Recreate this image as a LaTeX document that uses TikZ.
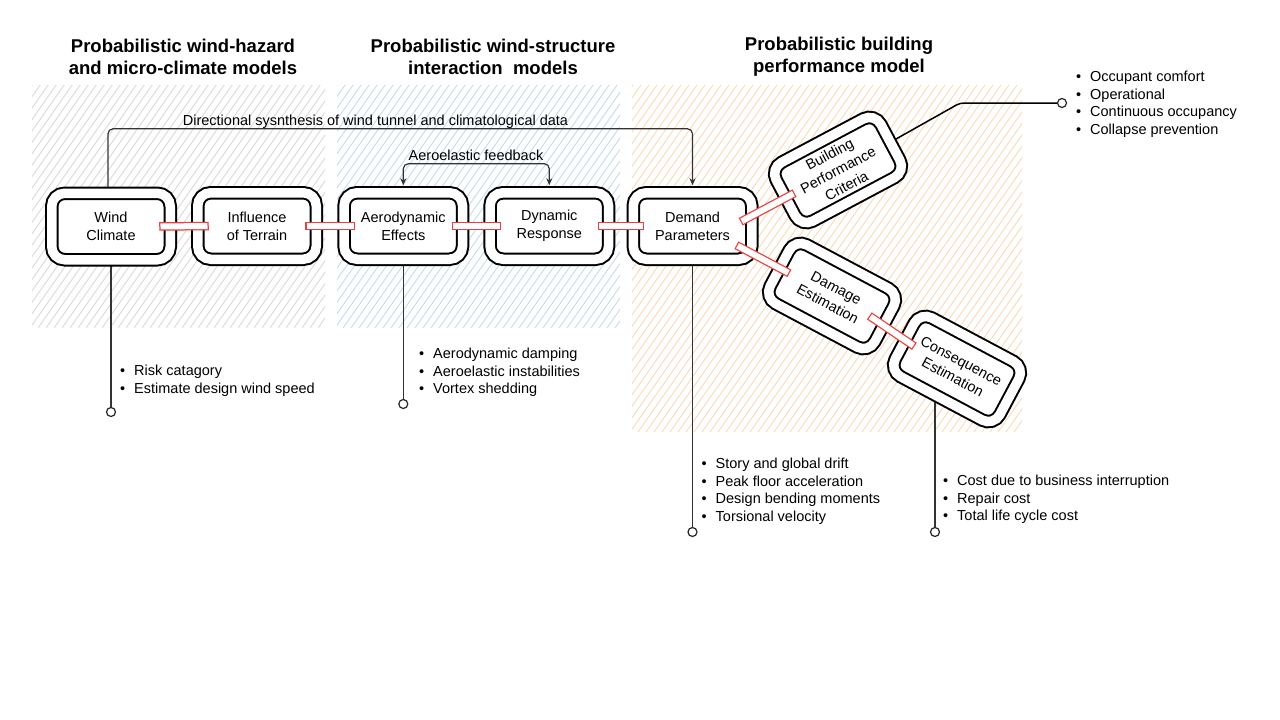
\documentclass[tikz,border=0pt]{standalone}
\usepackage{fontspec}
\setmainfont{Liberation Sans}
\usetikzlibrary{calc,arrows.meta}
\pgfdeclarelayer{bg}
\pgfdeclarelayer{lines}
\pgfsetlayers{bg,lines,main}
\definecolor{hgray}{HTML}{D9D9D9}
\definecolor{hblue}{HTML}{C5D9EF}
\definecolor{horange}{HTML}{FCD8B4}
\definecolor{barred}{HTML}{F03C3C}
\newcommand{\mybul}{\makebox[14pt][l]{•}}
\newcommand{\myhatch}[5]{%
  \begin{scope}
    \clip (#1,#2) rectangle (#3,#4);
    \foreach \k in {0,...,85}
      \draw[#5, line width=0.9pt] ({#1-250+\k*8},#4) -- ++(55:450);
  \end{scope}}
\begin{document}
\begin{tikzpicture}[x=1pt,y=1pt,
  link/.style={draw=black, line width=2pt, double=white, double distance=9.5pt,
    fill=white, rounded corners=13pt, minimum width=118.5pt, minimum height=66.5pt,
    inner sep=0pt, align=center, font=\fontsize{14.5}{18}\selectfont},
  head/.style={align=center, inner sep=0pt, font=\fontsize{18.5}{22}\selectfont\bfseries},
  lbl/.style={inner sep=0pt, font=\fontsize{14.5}{17.5}\selectfont},
  lst/.style={anchor=north west, align=left, inner sep=0pt, font=\fontsize{14.5}{17.5}\selectfont},
  endc/.style={circle, draw=black!85, fill=white, line width=1.2pt, minimum size=9pt, inner sep=0pt},
  leader/.style={draw=black!80, line width=1.2pt},
  arr/.style={draw=black!80, line width=1.2pt, rounded corners=5pt,
    -{Stealth[length=7pt,width=6pt]}, shorten >=6.5pt},
  bline/.style={draw=black, line width=1.5pt, rounded corners=4pt},
  bar/.style={draw=barred, line width=8.5pt,
    postaction={draw=white, line width=6pt, shorten <=1.25pt, shorten >=1.25pt}}
]
\useasboundingbox (0,0) rectangle (1280,-720);

\begin{pgfonlayer}{bg}
  \myhatch{32}{-85}{325}{-328}{hgray}
  \myhatch{337}{-85}{620}{-328}{hblue}
  \myhatch{632}{-85}{1022}{-432}{horange}
\end{pgfonlayer}

% headings
\node[head] (h1) at (183,-57) {Probabilistic wind-hazard\\and micro-climate models};
\node[head] (h2) at (493,-57) {Probabilistic wind-structure\\interaction\ \ models};
\node[head] (h3) at (839,-57) {Probabilistic building\\performance model};

% main chain nodes
\node[link] (wc) at (111,-226.5) {Wind\\Climate};
\node[link] (it) at (257,-226) {Influence\\of Terrain};
\node[link] (ae) at (403.3,-226) {Aerodynamic\\Effects};
\node[link] (dr) at (549.3,-226) {Dynamic\\Response};
\node[link] (dp) at (692.5,-226) {Demand\\Parameters};
\node[link, rotate=28] (bp) at (838,-170) {Building\\Performance\\Criteria};
\node[link, rotate=-28] (dm) at (832,-296) {Damage\\Estimation};
\node[link, rotate=-28] (ce) at (957,-369) {Consequence\\Estimation};

% end circles
\node[endc] (c1) at (111,-412) {};
\node[endc] (c2) at (403.3,-404) {};
\node[endc] (c3) at (692.5,-532) {};
\node[endc] (c4) at (935,-532) {};
\node[endc] (c5) at (1062,-103) {};

% lists
\node[lst] (l1) at (120,-365) {\mybul Risk catagory\\\mybul Estimate design wind speed};
\node[lst] (l2) at (419,-348) {\mybul Aerodynamic damping\\\mybul Aeroelastic instabilities\\\mybul Vortex shedding};
\node[lst] (l3) at (701.5,-458) {\mybul Story and global drift\\\mybul Peak floor acceleration\\\mybul Design bending moments\\\mybul Torsional velocity};
\node[lst] (l4) at (943,-475) {\mybul Cost due to business interruption\\\mybul Repair cost\\\mybul Total life cycle cost};
\node[lst] (l5) at (1076,-71) {\mybul Occupant comfort\\\mybul Operational\\\mybul Continuous occupancy\\\mybul Collapse prevention};

% labels
\node[lbl] (t1) at (375.5,-121.5) {Directional sysnthesis of wind tunnel and climatological data};
\node[lbl] (t2) at (476,-155) {Aeroelastic feedback};

% connectors behind nodes
\begin{pgfonlayer}{lines}
  \draw[leader] (wc.south) -- (c1);
  \draw[leader] (ae.south) -- (c2);
  \draw[leader] (dp.south) -- (c3);
  \draw[leader] (c4 |- ce.center) -- (c4);
  \draw[bline] (bp.east) -- (960,-103) -- (c5);
  \draw[arr] ([xshift=-3pt]wc.north) -- ++(0,63.5) -| (dp.north);
  \draw[arr, {Stealth[length=7pt,width=6pt]}-{Stealth[length=7pt,width=6pt]}, shorten <=6.5pt]
    (ae.north) -- ++(0,28) -| (dr.north);
\end{pgfonlayer}

% red link bars
\draw[bar] ($(wc.east)!12pt!(wc.west)$) -- ($(it.west)!12pt!(it.east)$);
\draw[bar] ($(it.east)!12pt!(it.west)$) -- ($(ae.west)!12pt!(ae.east)$);
\draw[bar] ($(ae.east)!12pt!(ae.west)$) -- ($(dr.west)!12pt!(dr.east)$);
\draw[bar] ($(dr.east)!12pt!(dr.west)$) -- ($(dp.west)!12pt!(dp.east)$);
\draw[bar] ($(bp.west)!-50pt!(bp.east)$) -- ($(bp.west)!11pt!(bp.east)$);
\draw[bar] ($(dm.west)!-48pt!(dm.east)$) -- ($(dm.west)!12pt!(dm.east)$);
\draw[bar] ($(dm.east)!18pt!(dm.west)$) -- ($(ce.west)!12pt!(ce.east)$);
\end{tikzpicture}
\end{document}
